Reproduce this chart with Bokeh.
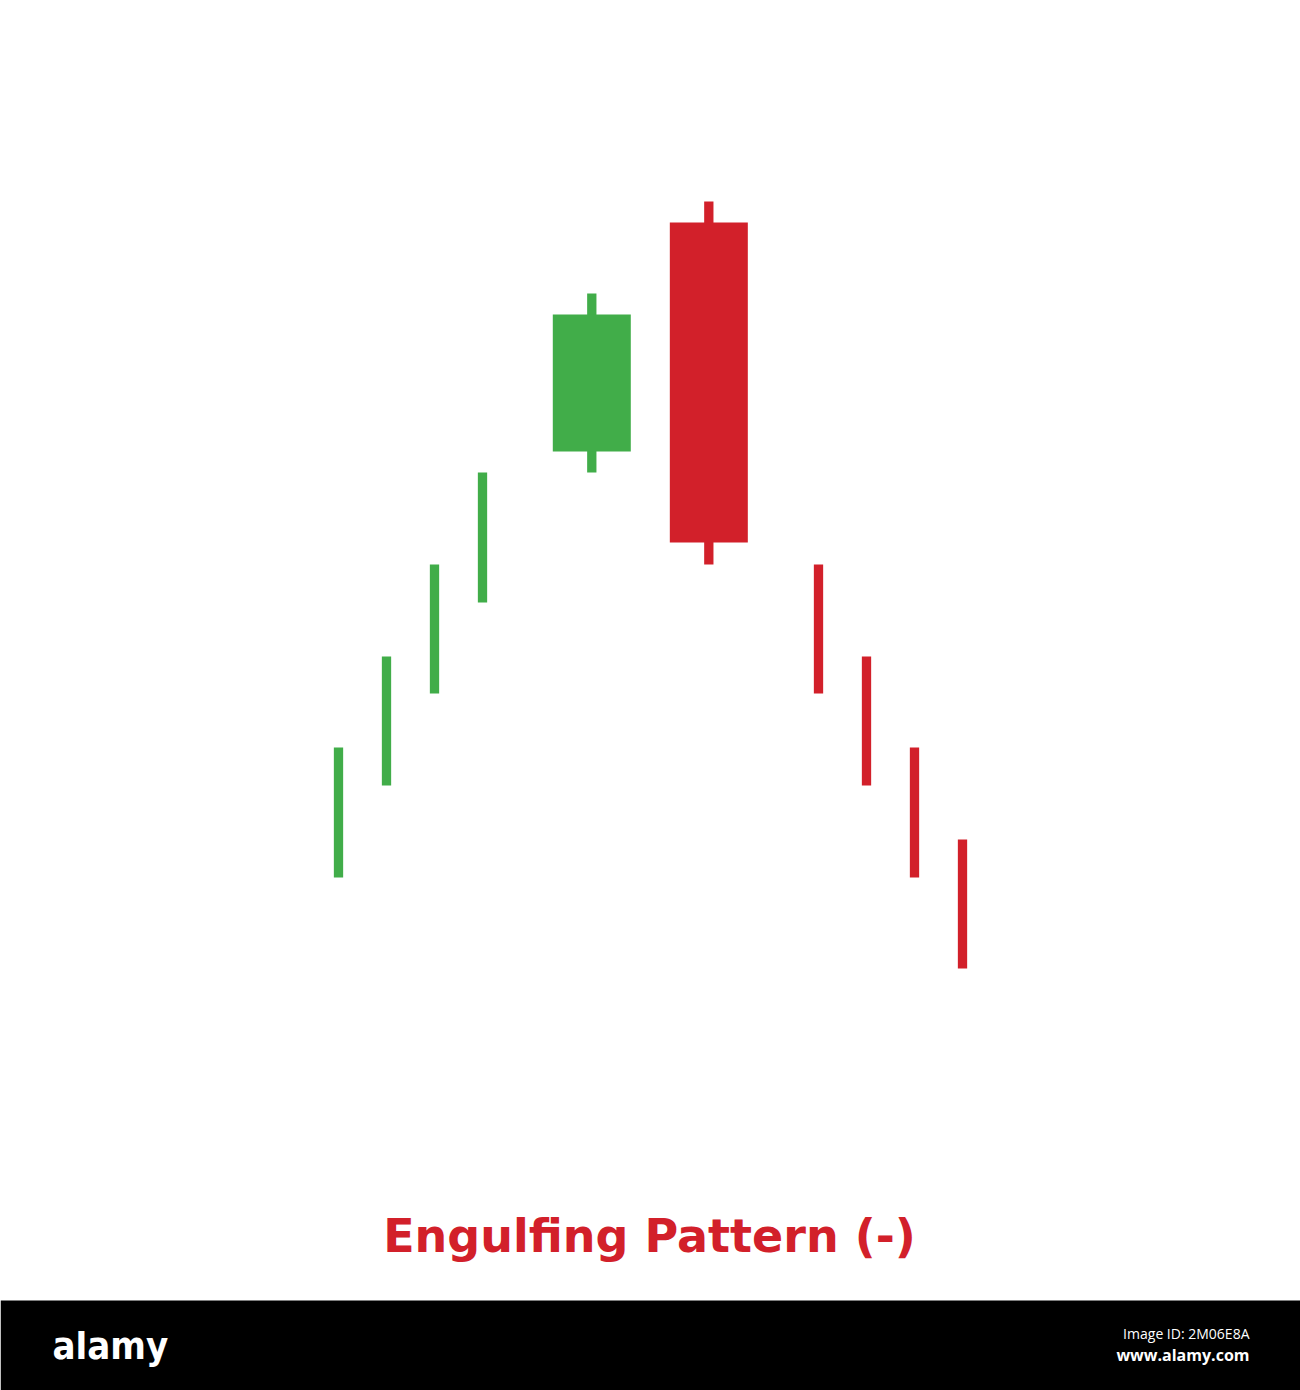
from bokeh.plotting import figure
from bokeh.models import Range1d, Label, BoxAnnotation, ColumnDataSource
from bokeh.embed import file_html
from bokeh.resources import INLINE

# ---- data (price units) ----
# thin "line" candles (open/close span the whole range)
line_x = [0, 1, 2, 3, 10, 11, 12, 13]
line_low = [12.3, 21.5, 30.7, 39.8, 30.7, 21.5, 12.3, 3.2]
line_high = [25.3, 34.4, 43.6, 52.8, 43.6, 34.4, 25.3, 16.1]
line_dir = ["up", "up", "up", "up", "down", "down", "down", "down"]

# engulfing pair
candle_x = [5.277, 7.715]
candle_open = [54.9, 77.8]
candle_close = [68.6, 45.8]
candle_high = [70.7, 79.9]
candle_low = [52.8, 43.6]

title_text = "Engulfing Pattern (-)"

GREEN = "#41ad49"
RED = "#d2202a"

W, H = 1300, 1390
p = figure(width=W, height=H, output_backend="svg", toolbar_location=None,
           x_range=Range1d(-338 / 48, (W - 338) / 48),
           y_range=Range1d(-39.0, 100.0), min_border=0)
p.axis.visible = False
p.grid.visible = False
p.outline_line_color = None
p.background_fill_color = "white"
p.border_fill_color = "white"

line_src = ColumnDataSource(dict(
    x=line_x, low=line_low, high=line_high,
    color=[GREEN if d == "up" else RED for d in line_dir]))
p.vbar(x="x", bottom="low", top="high", width=9.3 / 48, fill_color="color",
       line_color=None, source=line_src)

c_src = ColumnDataSource(dict(
    x=candle_x, low=candle_low, high=candle_high,
    bot=[min(o, c) for o, c in zip(candle_open, candle_close)],
    top=[max(o, c) for o, c in zip(candle_open, candle_close)],
    color=[GREEN if c > o else RED for o, c in zip(candle_open, candle_close)]))
p.vbar(x="x", bottom="low", top="high", width=9.3 / 48, fill_color="color",
       line_color=None, source=c_src)
p.vbar(x="x", bottom="bot", top="top", width=78 / 48, fill_color="color",
       line_color=None, source=c_src)

# title
p.add_layout(Label(x=649, y=155, x_units="screen", y_units="screen",
                   text=title_text, text_align="center", text_baseline="alphabetic",
                   text_font="DejaVu Sans", text_font_style="bold",
                   text_font_size="46px", text_color=RED))

# black footer band
p.add_layout(BoxAnnotation(top=-30, fill_color="black", fill_alpha=1.0,
                           line_color=None, level="overlay"))
p.add_layout(Label(x=52, y=45, x_units="screen", y_units="screen",
                   text="alamy", text_align="left", text_baseline="alphabetic",
                   text_font="Liberation Sans Narrow, DejaVu Sans Condensed, Liberation Sans",
                   text_font_style="bold", text_font_size="38px",
                   text_color="white", level="overlay"))
p.add_layout(Label(x=1249, y=57, x_units="screen", y_units="screen",
                   text="Image ID: 2M06E8A", text_align="right",
                   text_baseline="alphabetic", text_font="Open Sans",
                   text_font_size="14px", text_color="white", level="overlay"))
p.add_layout(Label(x=1249, y=36, x_units="screen", y_units="screen",
                   text="www.alamy.com", text_align="right",
                   text_baseline="alphabetic", text_font="Open Sans",
                   text_font_style="bold", text_font_size="16px",
                   text_color="white", level="overlay"))

open("out.html", "w").write(file_html(p, INLINE))
